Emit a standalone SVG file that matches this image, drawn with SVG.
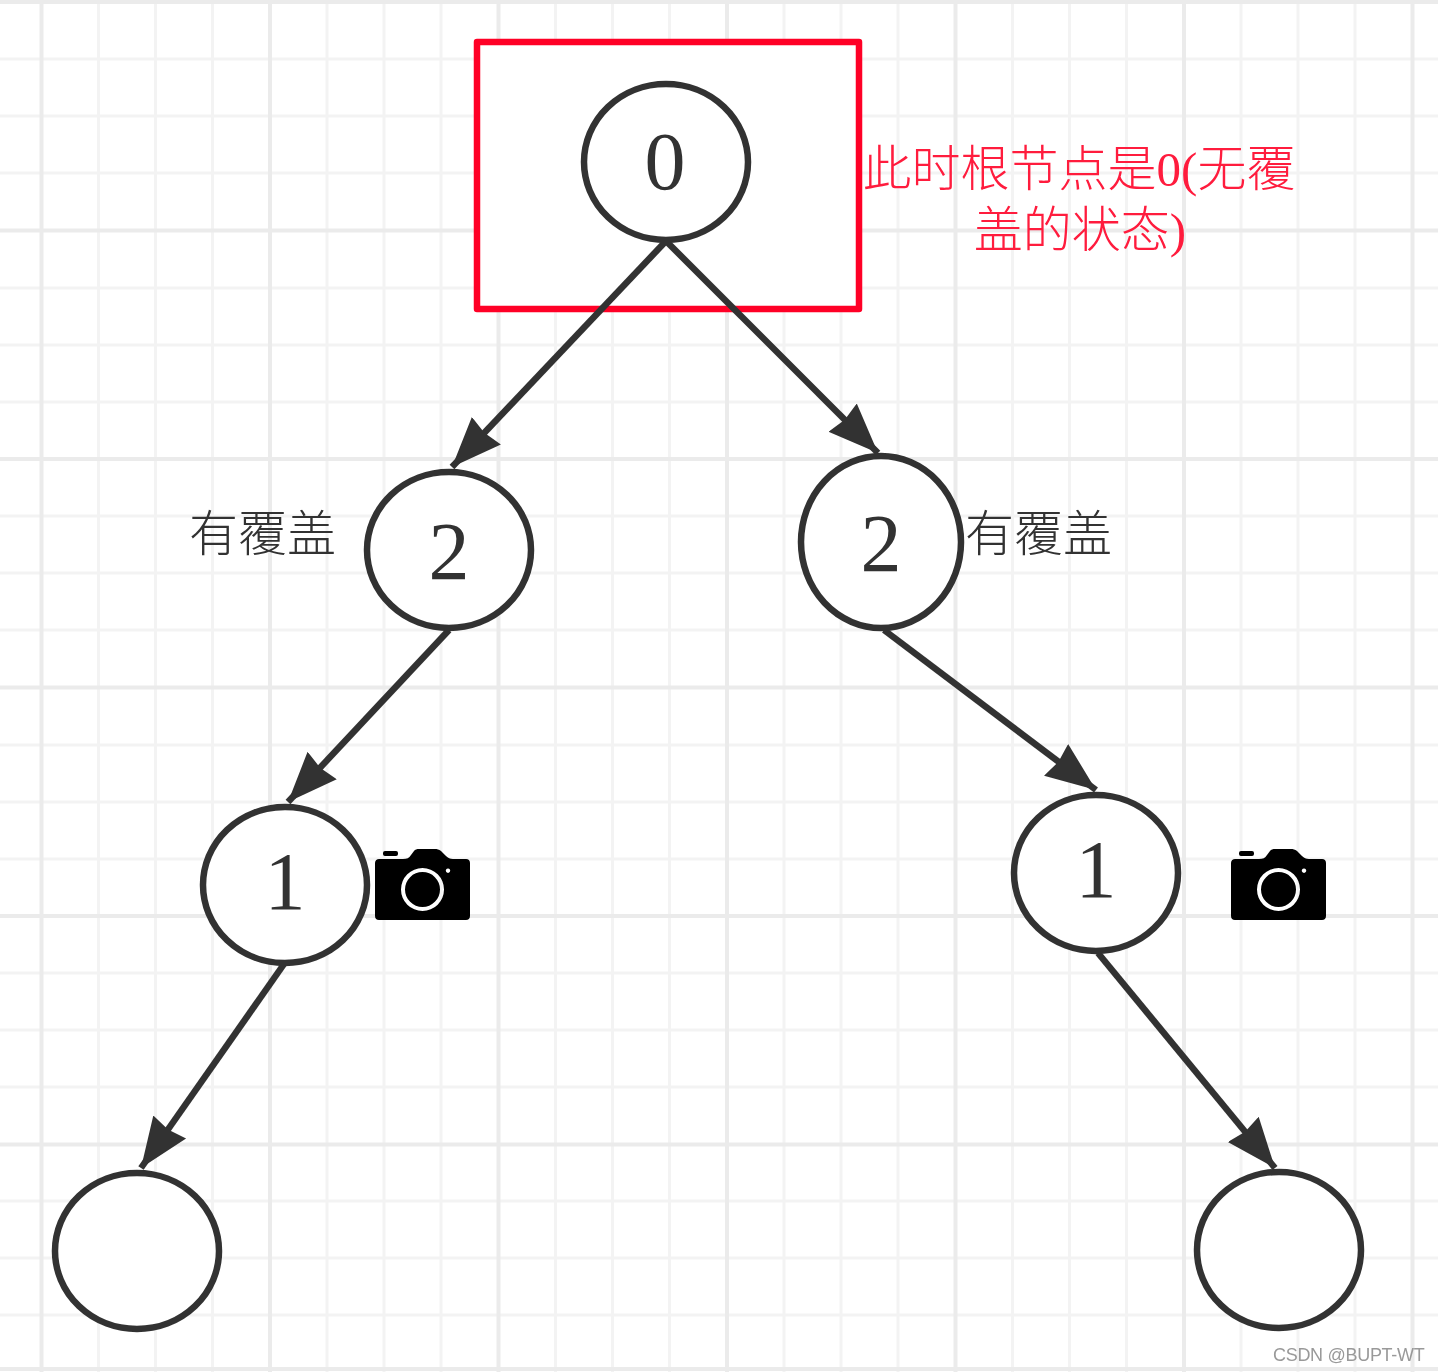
<svg xmlns="http://www.w3.org/2000/svg" width="1438" height="1372" viewBox="0 0 1438 1372">
<style>
.minor{stroke:#f3f3f3;stroke-width:3;fill:none}
.major{stroke:#ebebeb;stroke-width:4;fill:none}
.n{fill:#fff;stroke:#333;stroke-width:6.500}
.e{stroke:#333;stroke-width:6.500;fill:none;marker-end:url(#arrow)}
.num{font-family:"Liberation Serif",serif;font-size:82px;fill:#333;text-anchor:middle}
.lab{font-family:"Liberation Serif","Noto Sans CJK SC",serif;font-size:49px;fill:#333;font-weight:300}
.red{font-family:"Liberation Serif","Noto Sans CJK SC",serif;font-size:49px;fill:#ff1a3c;font-weight:300;text-anchor:middle}
.wm{font-family:"Liberation Sans",Arial,sans-serif;font-size:18px;letter-spacing:-.3px;fill:#999}
</style>
<defs>
<filter id="soft" x="0" y="0" width="100%" height="100%"><feGaussianBlur stdDeviation=".7"/></filter>
<marker id="arrow" markerUnits="userSpaceOnUse" markerWidth="56" markerHeight="48" refX="50" refY="22" orient="auto">
<path d="M50 22L0 2L3 22L0 42Z" fill="#333"/>
</marker>
<path id="cam" fill-rule="evenodd" d="M7 10H28C32 10 34 9 36 6L39 2C40 .5 42 0 44 0H60C62 0 64 .5 66 2L71 7C73 9 75 10 78 10H91C93.500 10 95 11.500 95 14V67C95 69.500 93.500 71 91 71H4C1.500 71 0 69.500 0 67V14C0 11.500 2 10 4 10ZM47.500 19A21.500 21.500 0 1 0 47.500 62A21.500 21.500 0 1 0 47.500 19ZM47.500 23A17.500 17.500 0 1 1 47.500 58A17.500 17.500 0 1 1 47.500 23ZM73 19.500a2.200 2.200 0 1 0 .01 0ZM10 2H21Q23 2 23 4V5Q23 7 21 7H10Q8 7 8 5V4Q8 2 10 2Z"/>
</defs>
<rect width="1438" height="1372" fill="#fff"/>
<g filter="url(#soft)">
<g id="grid">
<path class="minor" d="M98.500 0V1372M155.500 0V1372M212.500 0V1372M327 0V1372M384 0V1372M441 0V1372M555.500 0V1372M612.500 0V1372M669.500 0V1372M784 0V1372M841 0V1372M898 0V1372M1012.500 0V1372M1069.500 0V1372M1126.500 0V1372M1241 0V1372M1298 0V1372M1355 0V1372"/>
<path class="minor" d="M0 59H1438M0 116H1438M0 173H1438M0 288H1438M0 345H1438M0 402H1438M0 516H1438M0 573H1438M0 630H1438M0 745H1438M0 802H1438M0 859H1438M0 973H1438M0 1030H1438M0 1087H1438M0 1201H1438M0 1258H1438M0 1315H1438"/>
<path class="major" d="M41.500 0V1372M270 0V1372M498.500 0V1372M727 0V1372M955.500 0V1372M1184 0V1372M1412.500 0V1372"/>
<path class="major" d="M0 2H1438M0 230.500H1438M0 459H1438M0 687.500H1438M0 916H1438M0 1144.500H1438M0 1369H1438"/>
</g>
<g id="highlight"><rect x="477" y="42" width="382" height="267" fill="#fff" stroke="#ff0026" stroke-width="6.500" stroke-linejoin="round"/></g>
<g id="connectors">
<path class="e" d="M666 241L452 467"/>
<path class="e" d="M666 241L878 453"/>
<path class="e" d="M449 630L288 802"/>
<path class="e" d="M884 630L1096 790"/>
<path class="e" d="M284 964L141 1168"/>
<path class="e" d="M1098 953L1275 1168"/>
</g>
<g id="node-root"><ellipse class="n" cx="666" cy="162" rx="82" ry="78"/><text class="num" x="665" y="189">0</text></g>
<g id="node-l2"><ellipse class="n" cx="449" cy="550" rx="82" ry="78"/><text class="num" x="449" y="579">2</text></g>
<g id="node-r2"><ellipse class="n" cx="881" cy="542" rx="80" ry="86"/><text class="num" x="881" y="571">2</text></g>
<g id="node-l1"><ellipse class="n" cx="285" cy="885" rx="82" ry="78"/><text class="num" x="285" y="909">1</text></g>
<g id="node-r1"><ellipse class="n" cx="1096" cy="873" rx="82" ry="78"/><text class="num" x="1096" y="897">1</text></g>
<g id="node-ll"><ellipse class="n" cx="137" cy="1251" rx="82" ry="78"/></g>
<g id="node-rr"><ellipse class="n" cx="1279" cy="1250" rx="82" ry="78"/></g>
<g id="label-red"><text class="red" x="1079" y="186">此时根节点是0(无覆</text><text class="red" x="1080" y="247">盖的状态)</text></g>
<g id="label-l2"><text class="lab" x="189" y="551">有覆盖</text></g>
<g id="label-r2"><text class="lab" x="965" y="551">有覆盖</text></g>
<g id="camera-l"><use href="#cam" x="375" y="849"/></g>
<g id="camera-r"><use href="#cam" x="1231" y="849"/></g>
<text id="watermark" class="wm" x="1273" y="1361">CSDN @BUPT-WT</text>
</g>
</svg>
